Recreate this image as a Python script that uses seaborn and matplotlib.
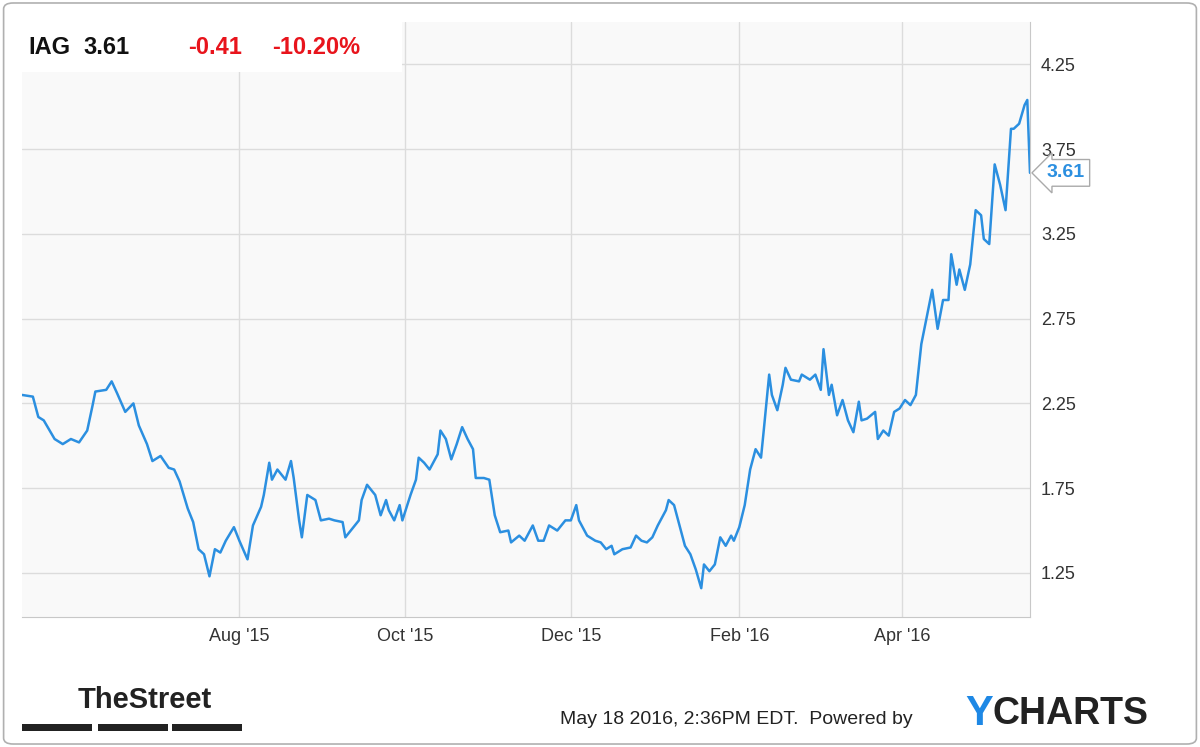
import matplotlib
matplotlib.use("Agg")
import matplotlib.pyplot as plt
import seaborn as sns
import pandas as pd
from matplotlib.patches import FancyBboxPatch, Rectangle

start, end = "2015-05-13", "2016-05-18"
# days since start for each observation
days = [0,4,6,8,12,15,18,21,24,26,27,31,33,35,38,41,43,46,48,51,54,56,58,61,63,65,67,69,71,73,75,78,80,83,85,88,89,91,92,94,
        97,99,100,102,103,105,108,110,113,115,118,119,121,124,125,127,130,132,134,135,137,139,140,143,145,146,148,150,153,154,
        156,158,160,162,164,166,167,170,172,174,176,179,180,183,185,188,190,192,194,197,200,202,204,205,208,211,213,215,217,218,
        221,224,226,228,230,232,234,237,238,240,242,244,246,248,250,251,253,255,257,259,261,262,264,266,268,270,272,273,275,276,
        278,280,281,283,286,287,290,292,294,295,297,298,300,302,304,306,308,309,311,314,315,317,319,321,323,325,327,329,331,333,
        335,337,339,341,342,344,345,347,349,351,353,354,356,358,360,362,364,365,367,369,370,371]
prices = [2.30,2.29,2.17,2.15,2.04,2.01,2.04,2.02,2.09,2.24,2.32,2.33,2.38,2.31,2.20,2.25,2.12,2.01,1.91,1.94,
          1.87,1.86,1.79,1.63,1.55,1.39,1.36,1.23,1.39,1.37,1.44,1.52,1.44,1.33,1.53,1.64,1.71,1.90,1.80,1.86,
          1.80,1.91,1.81,1.56,1.46,1.71,1.68,1.56,1.57,1.56,1.55,1.46,1.50,1.56,1.68,1.77,1.71,1.59,1.68,1.62,
          1.56,1.65,1.56,1.71,1.80,1.93,1.90,1.86,1.95,2.09,2.04,1.92,2.01,2.11,2.04,1.98,1.81,1.81,1.80,1.59,
          1.49,1.50,1.43,1.47,1.44,1.53,1.44,1.44,1.53,1.50,1.56,1.56,1.65,1.56,1.47,1.44,1.43,1.39,1.41,1.36,
          1.39,1.40,1.47,1.44,1.43,1.46,1.53,1.62,1.68,1.65,1.53,1.41,1.36,1.27,1.16,1.30,1.26,1.30,1.46,1.41,
          1.47,1.44,1.52,1.65,1.86,1.98,1.93,2.09,2.42,2.30,2.21,2.36,2.46,2.39,2.38,2.42,2.39,2.42,2.33,2.57,
          2.30,2.36,2.18,2.27,2.15,2.08,2.26,2.15,2.16,2.20,2.04,2.09,2.06,2.20,2.22,2.27,2.24,2.30,2.60,2.76,
          2.92,2.69,2.86,2.86,3.13,2.95,3.04,2.92,3.07,3.39,3.36,3.22,3.19,3.66,3.54,3.39,3.87,3.87,3.90,4.01,
          4.04,3.61]
n = min(len(days), len(prices))
dates = pd.Timestamp(start) + pd.to_timedelta(days[:n], unit="D")
df = pd.DataFrame({"date": dates, "price": prices[:n]})
yticks = [1.25, 1.75, 2.25, 2.75, 3.25, 3.75, 4.25]
xtick_dates = ["2015-08-01", "2015-10-01", "2015-12-01", "2016-02-01", "2016-04-01"]
xtick_labels = ["Aug '15", "Oct '15", "Dec '15", "Feb '16", "Apr '16"]

sns.set_style("white")
plt.rcParams['font.family'] = ['Liberation Sans', 'DejaVu Sans']
fig = plt.figure(figsize=(12, 7.47), dpi=100)
fig.patch.set_facecolor("white")
fig.patches.append(FancyBboxPatch((0.003, 0.004), 0.994, 0.992, boxstyle="round,pad=0,rounding_size=0.008",
                                  transform=fig.transFigure, fc="white", ec="#b0b0b0", lw=1.2, zorder=-1))
ax = fig.add_axes([22/1200, 1-617/747, 1008/1200, 595/747])
ax.set_facecolor("#f9f9f9")
sns.lineplot(data=df, x="date", y="price", ax=ax, color="#2b8fe0", lw=1.8)
ax.set_xlim(pd.Timestamp(start), pd.Timestamp(end))
ax.set_ylim(0.99, 4.50)
ax.yaxis.tick_right()
ax.set_yticks(yticks)
ax.set_yticklabels([f"{v:.2f}" for v in yticks], fontsize=13, color="#333")
ax.set_xticks(pd.to_datetime(xtick_dates))
ax.set_xticklabels(xtick_labels, fontsize=13, color="#333")
ax.tick_params(length=0, pad=8)
ax.grid(True, color="#dcdcdc", lw=1)
ax.set_xlabel(""); ax.set_ylabel("")
for s in ax.spines.values():
    s.set_color("#c8c8c8")
ax.spines["top"].set_visible(False)
ax.spines["left"].set_visible(False)

# header box
fig.patches.append(Rectangle((22/1200, 1-72/747), 380/1200, 50/747, transform=fig.transFigure,
                             fc="white", ec="none", zorder=5))
fig.text(28/1200, 1-47/747, "IAG", fontsize=17, fontweight="bold", color="#111", va="center", zorder=6)
fig.text(83/1200, 1-47/747, "3.61", fontsize=17, fontweight="bold", color="#111", va="center", zorder=6)
fig.text(188/1200, 1-47/747, "-0.41", fontsize=17, fontweight="bold", color="#e8141c", va="center", zorder=6)
fig.text(272/1200, 1-47/747, "-10.20%", fontsize=17, fontweight="bold", color="#e8141c", va="center", zorder=6)

# last price label
ax.annotate("3.61", xy=(1.0, 3.61), xycoords=("axes fraction", "data"), xytext=(12, 0),
            textcoords="offset points", fontsize=14, fontweight="bold", color="#2b8fe0", va="center",
            bbox=dict(boxstyle="larrow,pad=0.25", fc="white", ec="#aaaaaa"), annotation_clip=False)

# footer
fig.text(78/1200, 1-700/747, "TheStreet", fontsize=21, fontweight="bold", color="#222", va="center",
         family=['Liberation Sans Narrow', 'Liberation Sans'])
for x0 in (22, 98, 172):
    fig.patches.append(Rectangle((x0/1200, 1-731/747), 70/1200, 7/747, transform=fig.transFigure, fc="#222", ec="none"))
fig.text(560/1200, 1-719/747, "May 18 2016, 2:36PM EDT.  Powered by", fontsize=14, color="#222", va="center")
fig.text(965/1200, 1-714/747, "Y", fontsize=30, fontweight="bold", color="#1e88e5", va="center")
fig.text(992/1200, 1-714/747, "CHARTS", fontsize=27, fontweight="bold", color="#222", va="center")

fig.savefig("out.png", dpi=100)
